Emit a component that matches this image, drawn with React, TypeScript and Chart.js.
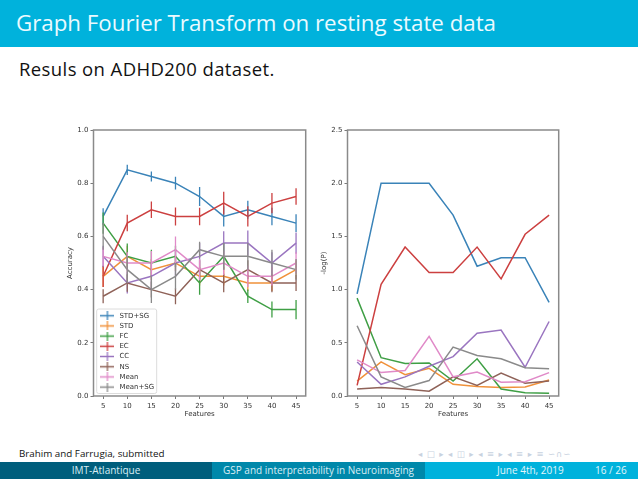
import React, { useEffect, useRef } from "react";
import { Chart, registerables } from "chart.js";

Chart.register(...registerables);

const features = [5, 10, 15, 20, 25, 30, 35, 40, 45];
const names = ["STD+SG", "STD", "FC", "EC", "CC", "NS", "Mean", "Mean+SG"];
const colors = ["#3a83b8", "#f0913a", "#3f9f45", "#cc4040", "#9a75c0", "#8f6258", "#e08ac8", "#8a8a8a"];

const accStdSg = [0.675, 0.85, 0.825, 0.8, 0.75, 0.675, 0.7, 0.675, 0.65];
const accStd = [0.45, 0.525, 0.475, 0.5, 0.45, 0.45, 0.425, 0.425, 0.475];
const accFc = [0.65, 0.525, 0.5, 0.525, 0.425, 0.525, 0.375, 0.325, 0.325];
const accEc = [0.45, 0.65, 0.7, 0.675, 0.675, 0.725, 0.675, 0.725, 0.75];
const accCc = [0.525, 0.425, 0.45, 0.5, 0.525, 0.575, 0.575, 0.5, 0.575];
const accNs = [0.375, 0.425, 0.4, 0.375, 0.475, 0.425, 0.475, 0.425, 0.425];
const accMean = [0.525, 0.5, 0.5, 0.55, 0.475, 0.5, 0.45, 0.45, 0.5];
const accMeanSg = [0.6, 0.475, 0.4, 0.45, 0.55, 0.525, 0.525, 0.5, 0.475];

const errStdSg = [0.031, 0.019, 0.019, 0.024, 0.036, 0.038, 0.034, 0.033, 0.033];
const errStd = [0.04, 0.04, 0.04, 0.03, 0.035, 0.035, 0.03, 0.03, 0.035];
const errFc = [0.04, 0.048, 0.05, 0.04, 0.044, 0.05, 0.025, 0.03, 0.036];
const errEc = [0.04, 0.031, 0.031, 0.034, 0.033, 0.043, 0.038, 0.038, 0.031];
const errCc = [0.04, 0.04, 0.05, 0.05, 0.05, 0.044, 0.047, 0.04, 0.04];
const errNs = [0.026, 0.033, 0.03, 0.03, 0.035, 0.035, 0.035, 0.035, 0.03];
const errMean = [0.035, 0.04, 0.045, 0.05, 0.04, 0.045, 0.04, 0.035, 0.04];
const errMeanSg = [0.05, 0.05, 0.05, 0.05, 0.03, 0.05, 0.05, 0.05, 0.04];

const logStdSg = [0.96, 2.0, 2.0, 2.0, 1.7, 1.22, 1.3, 1.3, 0.88];
const logStd = [0.14, 0.32, 0.2, 0.26, 0.11, 0.09, 0.08, 0.085, 0.15];
const logFc = [0.92, 0.36, 0.305, 0.31, 0.14, 0.35, 0.065, 0.03, 0.025];
const logEc = [0.1, 1.05, 1.4, 1.16, 1.16, 1.4, 1.1, 1.52, 1.7];
const logCc = [0.32, 0.11, 0.18, 0.28, 0.37, 0.59, 0.62, 0.27, 0.7];
const logNs = [0.065, 0.08, 0.065, 0.045, 0.18, 0.1, 0.215, 0.12, 0.14];
const logMean = [0.34, 0.22, 0.24, 0.56, 0.18, 0.225, 0.13, 0.135, 0.22];
const logMeanSg = [0.66, 0.18, 0.08, 0.145, 0.46, 0.38, 0.35, 0.265, 0.255];

const accSeries = [accStdSg, accStd, accFc, accEc, accCc, accNs, accMean, accMeanSg];
const errSeries = [errStdSg, errStd, errFc, errEc, errCc, errNs, errMean, errMeanSg];
const logSeries = [logStdSg, logStd, logFc, logEc, logCc, logNs, logMean, logMeanSg];

const FONT = "'DejaVu Sans'";
const SLIDE = "'Open Sans', 'Noto Sans', sans-serif";
const AXIS = "#8a8a8a";
const TEXT = "#333333";

function marker(color: string) {
  const c = document.createElement("canvas");
  c.width = 14;
  c.height = 9;
  const g = c.getContext("2d")!;
  g.strokeStyle = color;
  g.lineWidth = 1.3;
  g.beginPath();
  g.moveTo(0, 4.5);
  g.lineTo(14, 4.5);
  g.moveTo(7, 0);
  g.lineTo(7, 9);
  g.stroke();
  return c;
}

const framePlugin = {
  id: "frame",
  afterLayout(chart: any) {
    const l = chart.legend;
    if (l && chart.options.plugins.legend.display) {
      l.left = chart.chartArea.left + 2.2;
      l.top = chart.chartArea.top + chart.chartArea.height - 87;
      l.bottom = l.top + 200;
      l.adjustHitBoxes();
    }
  },
  beforeDraw(chart: any) {
    const l = chart.legend;
    if (l && chart.options.plugins.legend.display) {
      const g = chart.ctx;
      g.save();
      g.strokeStyle = "#dcdcdc";
      g.lineWidth = 1;
      g.beginPath();
      g.roundRect(l.left + 1, l.top, 60, 84.5, 2);
      g.stroke();
      g.restore();
    }
  },
  afterDatasetsDraw(chart: any) {
    const { x, y } = chart.scales;
    const g = chart.ctx;
    chart.data.datasets.forEach((ds: any) => {
      if (!ds.errors) return;
      g.save();
      g.strokeStyle = ds.borderColor;
      g.lineWidth = 1.3;
      g.beginPath();
      ds.data.forEach((p: any, i: number) => {
        const px = x.getPixelForValue(p.x);
        g.moveTo(px, y.getPixelForValue(p.y - ds.errors[i]));
        g.lineTo(px, y.getPixelForValue(p.y + ds.errors[i]));
      });
      g.stroke();
      g.restore();
    });
  },
  afterDraw(chart: any) {
    const a = chart.chartArea;
    const g = chart.ctx;
    g.save();
    g.strokeStyle = AXIS;
    g.lineWidth = 1.5;
    g.strokeRect(a.left, a.top, a.right - a.left, a.bottom - a.top);
    g.restore();
  },
};

function makeConfig(
  series: number[][],
  errors: number[][] | null,
  yMax: number,
  yStep: number,
  yTitle: string,
  right: number,
): any {
  return {
    type: "line",
    plugins: [framePlugin],
    data: {
      datasets: series.map((vals, i) => ({
        label: names[i],
        data: vals.map((v, j) => ({ x: features[j], y: v })),
        errors: errors ? errors[i] : undefined,
        borderColor: colors[i],
        backgroundColor: colors[i],
        borderWidth: 1.5,
        pointRadius: 0,
        tension: 0,
        fill: false,
        order: series.length - i,
      })),
    },
    options: {
      animation: false,
      responsive: false,
      devicePixelRatio: 1,
      layout: { padding: { top: 10, right, left: 0, bottom: 0 } },
      plugins: {
        title: { display: false },
        tooltip: { enabled: false },
        legend: {
          display: !!errors,
          position: "chartArea",
          align: "start",
          labels: {
            usePointStyle: true,
            pointStyleWidth: 17,
            padding: 3.2,
            color: TEXT,
            font: { family: FONT, size: 7, lineHeight: 1.17 },
            generateLabels: (c: any) =>
              c.data.datasets.map((d: any, i: number) => ({
                text: d.label,
                datasetIndex: i,
                pointStyle: marker(d.borderColor),
                fontColor: TEXT,
                hidden: false,
                lineWidth: 0,
              })),
          },
        },
      },
      scales: {
        x: {
          type: "linear",
          min: 3,
          max: 47,
          afterBuildTicks: (s: any) => {
            s.ticks = features.map((v) => ({ value: v }));
          },
          afterFit: (s: any) => {
            s.height = 22;
          },
          grid: { drawOnChartArea: false, tickLength: 3, tickColor: "#555", tickWidth: 0.8 },
          border: { display: false },
          ticks: {
            color: TEXT,
            padding: 3,
            maxRotation: 0,
            autoSkip: false,
            font: { family: FONT, size: 7 },
            callback: (v: any) => String(v),
          },
          title: {
            display: true,
            text: "Features",
            color: TEXT,
            padding: { top: 1, bottom: 0 },
            font: { family: FONT, size: 7 },
          },
        },
        y: {
          min: 0,
          max: yMax,
          afterFit: (s: any) => {
            s.width = 27.5;
          },
          grid: { drawOnChartArea: false, tickLength: 3, tickColor: "#555", tickWidth: 0.8 },
          border: { display: false },
          ticks: {
            stepSize: yStep,
            color: TEXT,
            padding: 2,
            font: { family: FONT, size: 7 },
            callback: (v: any) => Number(v).toFixed(1),
          },
          title: {
            display: true,
            text: yTitle,
            color: TEXT,
            padding: { top: 0, bottom: 1 },
            font: { family: FONT, size: 7 },
          },
        },
      },
    },
  };
}

function Panel(props: { left: number; config: () => any }) {
  const ref = useRef<HTMLCanvasElement>(null);
  useEffect(() => {
    const chart = new Chart(ref.current!, props.config());
    return () => chart.destroy();
  }, []);
  return (
    <canvas
      ref={ref}
      width={244}
      height={298}
      style={{ position: "absolute", left: props.left, top: 120, width: 244, height: 298 }}
    />
  );
}

const abs = (s: any) => ({ position: "absolute", whiteSpace: "nowrap", fontFamily: SLIDE, ...s });

export default function App() {
  return (
    <div style={abs({ left: 0, top: 0, width: 638, height: 479, background: "#fff", overflow: "hidden" })}>
      <div style={abs({ left: 0, top: 0, width: 638, height: 47, background: "#00b2dc" })} />
      <div style={abs({ left: 16, top: 9, fontSize: 22.3, lineHeight: "28px", color: "#eafaff" })}>
        Graph Fourier Transform on resting state data
      </div>
      <div style={abs({ left: 19, top: 58, fontSize: 18.5, letterSpacing: 0.4, lineHeight: "22px", color: "#111" })}>
        Resuls on ADHD200 dataset.
      </div>
      <Panel left={66} config={() => makeConfig(accSeries, errSeries, 1, 0.2, "Accuracy", 4.3)} />
      <Panel left={320} config={() => makeConfig(logSeries, null, 2.5, 0.5, "-log(P)", 5.3)} />
      <div style={abs({ left: 19, top: 447, fontSize: 9.8, lineHeight: "14px", color: "#111" })}>
        Brahim and Farrugia, submitted
      </div>
      <div style={abs({ left: 418, top: 447, fontSize: 8.5, letterSpacing: 0.9, lineHeight: "14px", color: "#c8d2e0", fontFamily: FONT })}>
        ◂ □ ▸  ◂ ◫ ▸  ◂ ≡ ▸  ◂ ≡ ▸    ≡    ∽∩∽
      </div>
      <div style={abs({ left: 0, top: 462, width: 212, height: 17, background: "#005e7c" })} />
      <div style={abs({ left: 212, top: 462, width: 213, height: 17, background: "#0088aa" })} />
      <div style={abs({ left: 425, top: 462, width: 213, height: 17, background: "#00b2dc" })} />
      <div style={abs({ left: 0, top: 462, width: 212, textAlign: "center", fontSize: 10, lineHeight: "17px", color: "#d8eef5" })}>
        IMT-Atlantique
      </div>
      <div style={abs({ left: 212, top: 462, width: 213, textAlign: "center", fontSize: 10, lineHeight: "17px", color: "#d8eef5" })}>
        GSP and interpretability in Neuroimaging
      </div>
      <div style={abs({ left: 497, top: 462, fontSize: 10, lineHeight: "17px", color: "#e2f6fb" })}>June 4th, 2019</div>
      <div style={abs({ left: 595, top: 462, fontSize: 10, lineHeight: "17px", color: "#e2f6fb" })}>16 / 26</div>
    </div>
  );
}
